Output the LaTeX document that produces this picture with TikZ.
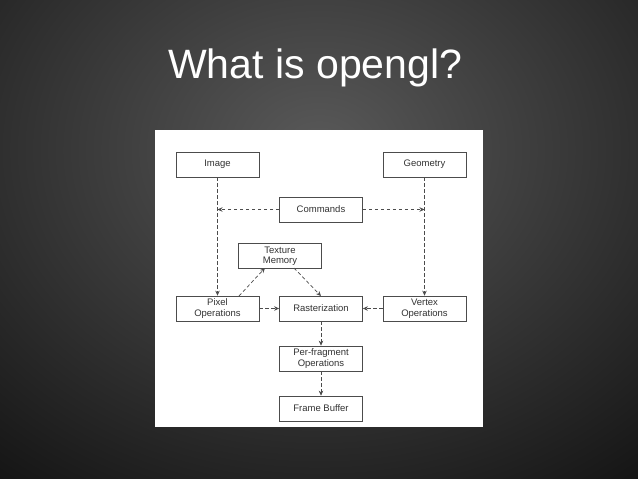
\documentclass[tikz,border=0pt]{standalone}
\usepackage{fontspec}
\setmainfont{Liberation Sans}
\usetikzlibrary{arrows.meta}
\begin{document}
\begin{tikzpicture}[x=1pt,y=-1pt,
  box/.style={draw=black!70,fill=white,line width=0.7pt,minimum width=83pt,minimum height=25pt,align=center,inner sep=1pt,font=\fontsize{9.5}{10.5}\selectfont,text=black!80},
  arr/.style={draw=black!70,dashed,dash pattern=on 3.5pt off 2.5pt,line width=0.7pt,-{Stealth[length=5pt,width=4.5pt]}}]
\useasboundingbox (0,0) rectangle (638,479);
\begin{scope}
\clip (0,0) rectangle (638,479);
\shade[inner color=black!65,outer color=black!97] (-300,-350) rectangle (938,650);
\end{scope}
\node[anchor=base west,text=white,font=\fontsize{41}{46}\selectfont,inner sep=0] (title) at (168,78) {What is opengl?};
\fill[white] (155,130) rectangle (483,427);
\node[box] (img) at (217.5,164.5) {Image};
\node[box] (geo) at (424.5,164.5) {Geometry};
\node[box] (cmd) at (321,209.5) {Commands};
\node[box] (tex) at (280,256) {Texture\\Memory};
\node[box] (pix) at (217.5,308.5) {Pixel\\Operations};
\node[box] (ras) at (321,308.5) {Rasterization};
\node[box] (ver) at (424.5,308.5) {Vertex\\Operations};
\node[box] (per) at (321,358.5) {Per-fragment\\Operations};
\node[box] (fb) at (321,408.5) {Frame Buffer};
\coordinate (cl) at (img.center |- cmd.west);
\coordinate (cr) at (geo.center |- cmd.east);
\coordinate (ps) at (239,296);
\coordinate (tp) at (265,268);
\coordinate (ts) at (294,268);
\coordinate (rt) at (321,296);
\draw[arr] (img) -- (pix);
\draw[arr] (geo) -- (ver);
\draw[arr] (cmd.west) -- (cl);
\draw[arr] (cmd.east) -- (cr);
\draw[arr] (ps) -- (tp);
\draw[arr] (ts) -- (rt);
\draw[arr] (pix) -- (ras);
\draw[arr] (ver) -- (ras);
\draw[arr] (ras) -- (per);
\draw[arr] (per) -- (fb);
\end{tikzpicture}
\end{document}
